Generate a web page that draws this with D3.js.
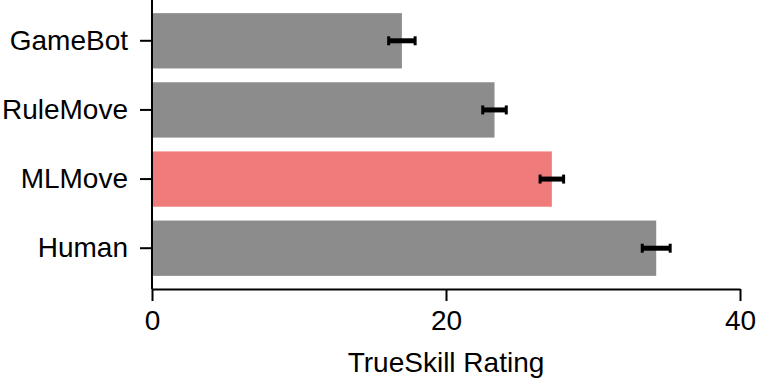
<!DOCTYPE html>
<html>
<head>
<meta charset="utf-8">
<script src="https://cdn.jsdelivr.net/npm/d3@7"></script>
<style>
  body { margin: 0; background: #fff; }
  svg { display: block; font-family: "Liberation Sans", Arial, sans-serif; }
</style>
</head>
<body>
<svg></svg>
<script>
// constants
const WIDTH = 758;
const HEIGHT = 381;
const LEFT = 152;
const RIGHT = 740;
const TOP = 0;
const BOTTOM = 289;
const FONT = 28;

// data
const agents = ['GameBot', 'RuleMove', 'MLMove', 'Human'];
const ratings = [17.0, 23.3, 27.2, 34.3];
const errors = [0.9, 0.8, 0.8, 0.95];
const highlight = 'MLMove';
const xTicks = [0, 20, 40];

const svg = d3.select('svg')
    .attr('width', WIDTH)
    .attr('height', HEIGHT);

const x = d3.scaleLinear()
    .domain([0, 40])
    .range([LEFT, RIGHT]);

const y = d3.scaleBand()
    .domain(agents)
    .range([TOP, BOTTOM])
    .paddingInner(0.2)
    .paddingOuter(0.19);

const rows = agents.map((a, i) => ({ name: a, value: ratings[i], err: errors[i] }));

// bars
svg.append('g')
    .selectAll('rect')
    .data(rows).join('rect')
    .attr('x', x(0))
    .attr('y', d => y(d.name))
    .attr('width', d => x(d.value) - x(0))
    .attr('height', y.bandwidth())
    .attr('fill', d => d.name === highlight ? '#f07b7b' : '#8c8c8c');

// error bars
const err = svg.append('g')
    .selectAll('g')
    .data(rows).join('g')
    .attr('transform', d => `translate(0, ${y(d.name) + y.bandwidth() / 2})`);

err.append('line')
    .attr('x1', d => x(d.value - d.err))
    .attr('x2', d => x(d.value + d.err))
    .attr('stroke', '#000')
    .attr('stroke-width', 5);

err.selectAll('line.cap')
    .data(d => [d.value - d.err, d.value + d.err]).join('line')
    .attr('class', 'cap')
    .attr('x1', d => x(d))
    .attr('x2', d => x(d))
    .attr('y1', -4.5)
    .attr('y2', 4.5)
    .attr('stroke', '#000')
    .attr('stroke-width', 3);

// axes
const xAxis = svg.append('g')
    .attr('transform', `translate(0, ${BOTTOM})`)
    .call(d3.axisBottom(x).tickValues(xTicks).tickSize(12).tickPadding(9).tickSizeOuter(0));

const yAxis = svg.append('g')
    .attr('transform', `translate(${LEFT}, 0)`)
    .call(d3.axisLeft(y).tickSize(12).tickPadding(12).tickSizeOuter(0));

[xAxis, yAxis].forEach(a => {
    a.select('.domain').attr('stroke', '#000').attr('stroke-width', 2);
    a.selectAll('.tick line').attr('stroke', '#000').attr('stroke-width', 2);
    a.selectAll('.tick text')
        .attr('fill', '#000')
        .attr('font-size', FONT)
        .attr('font-family', '"Liberation Sans", Arial, sans-serif');
});
yAxis.select('.domain').attr('d', `M0,${TOP}V${BOTTOM}`);

// x label
svg.append('text')
    .attr('x', (LEFT + RIGHT) / 2)
    .attr('y', 372)
    .attr('text-anchor', 'middle')
    .attr('font-size', FONT)
    .attr('fill', '#000')
    .text('TrueSkill Rating');
</script>
</body>
</html>
